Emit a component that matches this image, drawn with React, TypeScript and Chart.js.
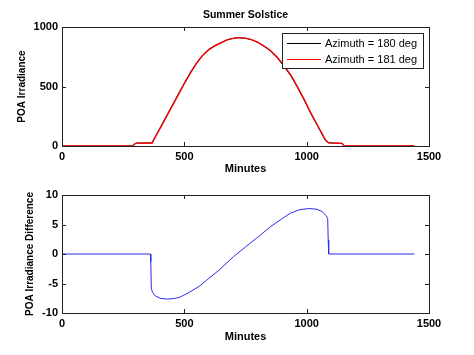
import React, { useEffect, useRef } from "react";
import { Chart, registerables } from "chart.js";

Chart.register(...registerables);

// ---- Data ----
const chartTitle = "Summer Solstice";
const topMinutes = [0, 290, 295, 305, 365, 368, 380, 400, 425, 450, 475, 500, 525, 550, 575, 599, 625, 650, 675, 700, 720, 750, 775, 800, 825, 851, 880, 906, 935, 960, 990, 1015, 1045, 1077, 1085, 1090, 1145, 1152, 1440];
const poaAz180 = [0, 0, 15, 24, 26, 28, 75, 150, 245, 340, 435, 530, 620, 700, 765, 812, 845, 870, 893, 905, 910, 905, 892, 870, 838, 800, 740, 672, 590, 500, 385, 280, 165, 45, 30, 27, 22, 0, 0];
const poaAz181 = [0, 0, 15, 24, 26, 22, 68, 143, 238, 333, 428, 523, 613, 694, 760, 807, 841, 867, 891, 904, 910, 906, 894, 873, 842, 805, 746, 679, 597, 507, 392, 287, 172, 51, 36, 27, 22, 0, 0];
const diffMinutes = [0, 361, 363, 365, 370, 381, 401, 430, 465, 483, 520, 560, 592, 640, 701, 750, 811, 851, 900, 933, 970, 1008, 1040, 1063, 1080, 1086, 1088, 1090, 1440];
const poaDiff = [0, 0, -1.3, -5.8, -6.5, -7.1, -7.5, -7.65, -7.5, -7.3, -6.5, -5.5, -4.4, -2.8, -0.45, 1.2, 3.2, 4.6, 6.0, 6.9, 7.5, 7.7, 7.6, 7.2, 6.5, 6.0, 2.4, 0, 0];
const xTicks = [0, 500, 1000, 1500];
const topYTicks = [0, 500, 1000];
const bottomYTicks = [-10, -5, 0, 5, 10];
const legendLabels = ["Azimuth = 180 deg", "Azimuth = 181 deg"];
const legendColors = ["#000000", "#ff0000"];

const FONT = "'Liberation Sans', Arial, sans-serif";

const pairs = (xs: number[], ys: number[]) => xs.map((x, i) => ({ x, y: ys[i] }));

const boxPlugin = {
  id: "matlabBox",
  afterDraw(chart: any, _args: any, opts: any) {
    const { ctx, chartArea } = chart;
    const { left, right, top, bottom } = chartArea;
    ctx.save();
    ctx.strokeStyle = "#222";
    ctx.lineWidth = 1;
    ctx.strokeRect(Math.round(left) + 0.5, Math.round(top) + 0.5, Math.round(right - left), Math.round(bottom - top));
    const tl = 4;
    const xs = chart.scales.x;
    const ys = chart.scales.y;
    ctx.beginPath();
    for (const v of opts.xt || []) {
      const px = Math.round(xs.getPixelForValue(v)) + 0.5;
      ctx.moveTo(px, bottom);
      ctx.lineTo(px, bottom - tl);
      ctx.moveTo(px, top);
      ctx.lineTo(px, top + tl);
    }
    for (const v of opts.yt || []) {
      const py = Math.round(ys.getPixelForValue(v)) + 0.5;
      ctx.moveTo(left, py);
      ctx.lineTo(left + tl, py);
      ctx.moveTo(right, py);
      ctx.lineTo(right - tl, py);
    }
    ctx.stroke();

    if (opts.title) {
      ctx.fillStyle = "#000";
      ctx.font = `bold 10.5px ${FONT}`;
      ctx.textAlign = "center";
      ctx.textBaseline = "middle";
      ctx.fillText(opts.title, (left + right) / 2, 15);
    }

    if (opts.legend) {
      const bw = 141;
      const bh = 35;
      const bx = Math.round(right) - 6 - bw;
      const by = Math.round(top) + 6;
      ctx.fillStyle = "#fff";
      ctx.fillRect(bx, by, bw, bh);
      ctx.strokeStyle = "#222";
      ctx.strokeRect(bx + 0.5, by + 0.5, bw, bh);
      ctx.font = `11px ${FONT}`;
      ctx.textAlign = "left";
      ctx.textBaseline = "middle";
      opts.legend.forEach((lab: string, i: number) => {
        const y = by + 10 + i * 16;
        ctx.strokeStyle = opts.colors[i];
        ctx.beginPath();
        ctx.moveTo(bx + 5, y + 0.5);
        ctx.lineTo(bx + 39, y + 0.5);
        ctx.stroke();
        ctx.fillStyle = "#000";
        ctx.fillText(lab, bx + 43, y + 1);
      });
    }
    ctx.restore();
  },
};

const plainTick = (v: any) => String(v);

function makeOptions(p: {
  yMin: number; yMax: number; yStep: number; yTitle: string; yTitlePad: number;
  padTop: number; xHeight: number; xTitlePad: number; yt: number[];
  title?: string; legend?: string[];
}) {
  return {
    responsive: false,
    animation: false as const,
    layout: { padding: { top: p.padTop, right: 45, left: 0, bottom: 0 } },
    plugins: {
      legend: { display: false },
      tooltip: { enabled: false },
      title: { display: false },
      matlabBox: { xt: xTicks, yt: p.yt, title: p.title, legend: p.legend, colors: legendColors },
    },
    scales: {
      x: {
        type: "linear" as const,
        min: 0,
        max: 1500,
        grid: { display: false, drawTicks: false },
        border: { display: false },
        ticks: { stepSize: 500, color: "#000", padding: 4, maxRotation: 0, callback: plainTick, font: { family: FONT, weight: "bold" as const, size: 11 } },
        title: { display: true, text: "Minutes", color: "#000", padding: { top: 0, bottom: p.xTitlePad }, font: { family: FONT, weight: "bold" as const, size: 11 } },
        afterFit: (s: any) => { s.height = p.xHeight; },
      },
      y: {
        min: p.yMin,
        max: p.yMax,
        grid: { display: false, drawTicks: false },
        border: { display: false },
        ticks: { stepSize: p.yStep, color: "#000", padding: 4, callback: plainTick, font: { family: FONT, weight: "bold" as const, size: 11 } },
        title: { display: true, text: p.yTitle, color: "#000", padding: { top: p.yTitlePad, bottom: 0 }, font: { family: FONT, weight: "bold" as const, size: 10 } },
        afterFit: (s: any) => { s.width = 62; },
      },
    },
  };
}

export default function App() {
  const topRef = useRef<HTMLCanvasElement>(null);
  const botRef = useRef<HTMLCanvasElement>(null);

  useEffect(() => {
    const top = new Chart(topRef.current!, {
      type: "line",
      data: {
        datasets: [
          { label: legendLabels[0], data: pairs(topMinutes, poaAz180), borderColor: legendColors[0], borderWidth: 1, pointRadius: 0, tension: 0, order: 1 },
          { label: legendLabels[1], data: pairs(topMinutes, poaAz181), borderColor: legendColors[1], borderWidth: 1.3, pointRadius: 0, tension: 0, order: 0 },
        ],
      },
      options: makeOptions({ yMin: 0, yMax: 1000, yStep: 500, yTitle: "POA Irradiance", yTitlePad: 16, padTop: 27, xHeight: 34, xTitlePad: 4, yt: topYTicks, title: chartTitle, legend: legendLabels }) as any,
      plugins: [boxPlugin],
    });
    const bot = new Chart(botRef.current!, {
      type: "line",
      data: {
        datasets: [
          { label: "Difference", data: pairs(diffMinutes, poaDiff), borderColor: "#2b2bf0", borderWidth: 1, pointRadius: 0, tension: 0 },
        ],
      },
      options: makeOptions({ yMin: -10, yMax: 10, yStep: 5, yTitle: "POA Irradiance Difference", yTitlePad: 24, padTop: 15, xHeight: 42, xTitlePad: 11, yt: bottomYTicks }) as any,
      plugins: [boxPlugin],
    });
    return () => {
      top.destroy();
      bot.destroy();
    };
  }, []);

  return (
    <div style={{ position: "absolute", left: 0, top: 0, width: 474, height: 355, background: "#fff" }}>
      <canvas ref={topRef} width={474} height={180} style={{ position: "absolute", left: 0, top: 0 }} />
      <canvas ref={botRef} width={474} height={175} style={{ position: "absolute", left: 0, top: 180 }} />
    </div>
  );
}
